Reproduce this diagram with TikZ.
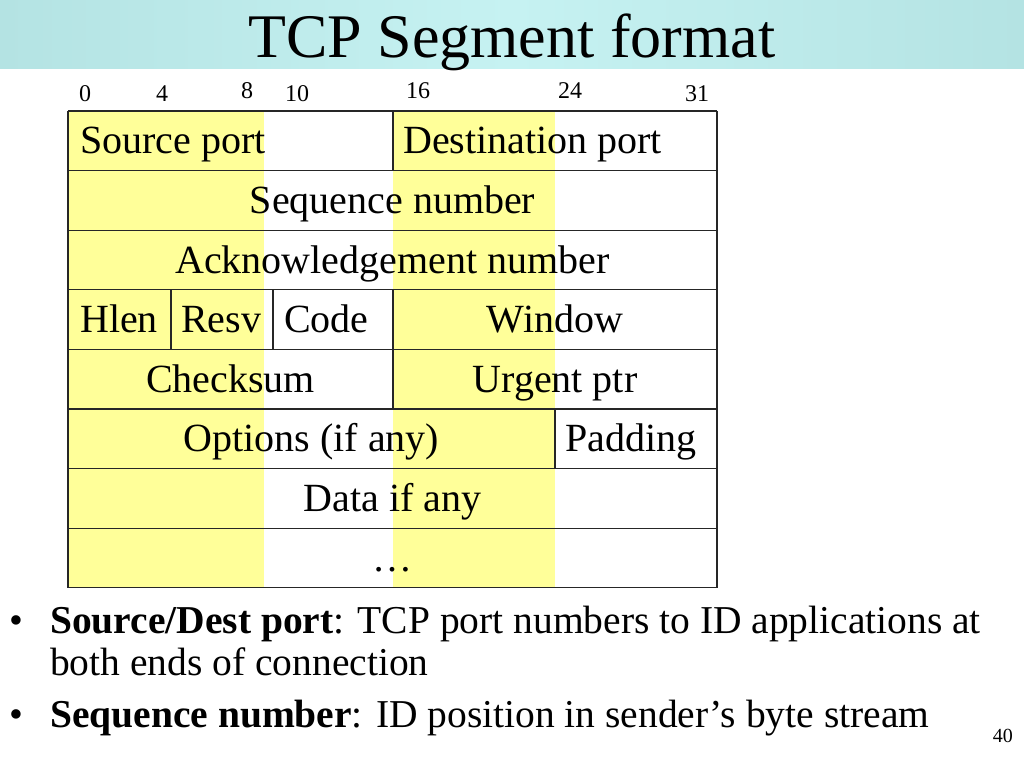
\documentclass[tikz,border=0pt]{standalone}
\usepackage{fontspec}
\setmainfont{Liberation Serif}
\usepackage{xcolor}
\usetikzlibrary{calc,positioning}
\definecolor{barcyan}{RGB}{180,227,227}
\definecolor{barlight}{RGB}{198,242,242}
\definecolor{stripe}{RGB}{255,255,153}
\tikzset{
	grid/.style={line width=1.2pt,black!85},
	cellL/.style={inner sep=0pt,anchor=base west,font=\fontsize{40}{48}\selectfont},
	cellC/.style={inner sep=0pt,anchor=base,font=\fontsize{40}{48}\selectfont},
	bitno/.style={inner sep=0pt,anchor=base,font=\fontsize{24}{28}\selectfont},
	bullettext/.style={inner sep=0pt,anchor=base west,font=\fontsize{39.5}{48}\selectfont}
}

\begin{document}
\begin{tikzpicture}[x=1pt,y=-1pt]
	\useasboundingbox (0,0) rectangle (1024,768);
	\shade[left color=barcyan,right color=barcyan,middle color=barlight] (0,0) rectangle (1024,68);
	\node[inner sep=0pt,anchor=base,font=\fontsize{62}{70}\selectfont] (title) at (512,58) {TCP Segment format};
	% bit positions
	\foreach \b/\x/\y in {0/85/101,4/162/101,8/247/98,10/297/101,16/418/98,24/570/98,31/697/101}
		\node[bitno] (bit\b) at (\x,\y) {\b};
	% yellow stripes
	\fill[stripe] (68,111) rectangle (264,588);
	\fill[stripe] (393,111) rectangle (555,588);
	% rows and frame
	\foreach \r in {0,...,8} \draw[grid] (68,{111+59.6*\r}) -- (717,{111+59.6*\r});
	\draw[grid] (68,111) -- (68,587.8);
	\draw[grid] (717,111) -- (717,587.8);
	\draw[grid] (393,111) -- (393,170.6);
	\foreach \x in {171,273,393} \draw[grid] (\x,289.8) -- (\x,349.4);
	\draw[grid] (393,349.4) -- (393,409);
	\draw[grid] (555,409) -- (555,468.6);
	% fields
	\node[cellL] (srcport) at (80,153.8) {Source port};
	\node[cellL] (dstport) at (403,153.8) {Destination port};
	\node[cellC] (seqno) at (392.5,213.4) {Sequence number};
	\node[cellC] (ackno) at (392.5,273) {Acknowledgement number};
	\node[cellL] (hlen) at (80,332.6) {Hlen};
	\node[cellL] (resv) at (181,332.6) {Resv};
	\node[cellL] (code) at (284,332.6) {Code};
	\node[cellC] (window) at (555,332.6) {Window};
	\node[cellC] (checksum) at (230.5,392.2) {Checksum};
	\node[cellC] (urgent) at (555,392.2) {Urgent ptr};
	\node[cellC] (options) at (311.5,451.8) {Options (if any)};
	\node[cellL] (padding) at (565,451.8) {Padding};
	\node[cellC] (data) at (392.5,511.4) {Data if any};
	\node[cellC] (more) at (392.5,571) {…};
	% bullets
	\node[bullettext] (dot1) at (9,633) {•};
	\node[bullettext] (line1) at (50,633) {\textbf{Source/Dest port}: TCP port numbers to ID applications at};
	\node[bullettext] (line2) at (50,675) {both ends of connection};
	\node[bullettext] (dot2) at (9,727) {•};
	\node[bullettext] (line3) at (50,727) {\textbf{Sequence number}: ID position in sender’s byte stream};
	\node[inner sep=0pt,anchor=base east,font=\fontsize{20}{24}\selectfont] (page) at (1013,742) {40};
\end{tikzpicture}
\end{document}
